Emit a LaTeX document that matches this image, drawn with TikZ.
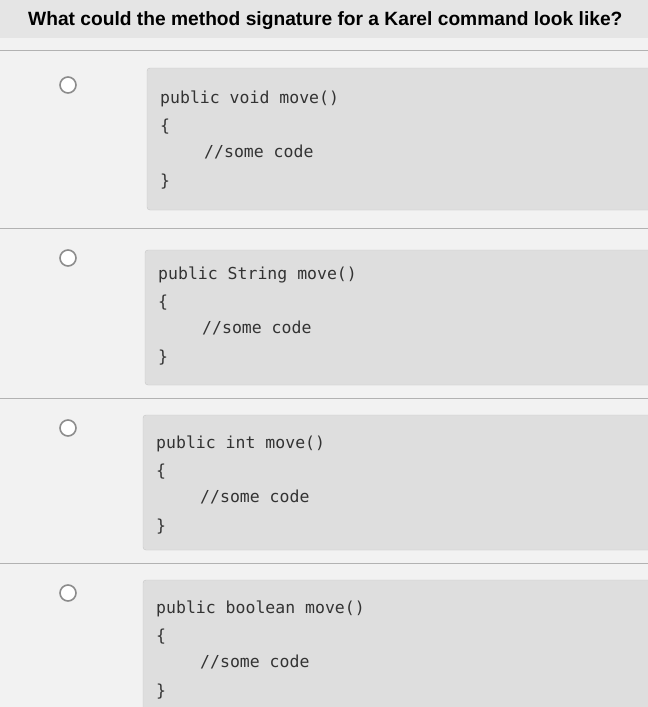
\documentclass[tikz,border=0pt]{standalone}
\usepackage{fontspec}
\setmainfont{Liberation Sans}
\newfontfamily\codefont{DejaVu Sans Mono}
\begin{document}
\begin{tikzpicture}[x=1pt,y=-1pt,
  codebox/.style={fill=black!13,draw=black!22,rounded corners=3pt},
  radio/.style={circle,draw=black!45,line width=1.6pt,fill=white,minimum size=16pt,inner sep=0pt},
  code/.style={font=\codefont\fontsize{16.5}{18}\selectfont,text=black!80,anchor=base west,inner sep=0pt},
  sep/.style={draw=black!30,line width=1pt}]
\useasboundingbox (0,0) rectangle (648,707);
\fill[black!5] (0,0) rectangle (648,707);
\fill[black!10] (0,0) rectangle (648,38);
\node[font=\bfseries\fontsize{19.2}{22}\selectfont,anchor=base west,inner sep=0pt] (title) at (28,25) {What could the method signature for a Karel command look like?};
\draw[sep] (0,50) -- (648,50);
\draw[sep] (0,228) -- (648,228);
\draw[sep] (0,398) -- (648,398);
\draw[sep] (0,563) -- (648,563);
% options
\foreach \i/\cy/\bx/\by/\bh/\ty/\kw in {1/85/147/68/142/103/void, 2/258/145/250/135/279/String, 3/428/143/415/135/448/int, 4/593/143/580/140/613/boolean}{
  \node[radio] (r\i) at (68,\cy) {};
  \draw[codebox] (\bx,\by) rectangle (660,\by+\bh);
  \node[code] (a\i) at (\bx+13,\ty) {public \kw\ move()};
  \node[code] (b\i) at (\bx+13,\ty+28) {\{};
  \node[code] (c\i) at (\bx+57,\ty+54) {//some code};
  \node[code] (d\i) at (\bx+13,\ty+83) {\}};
}
\end{tikzpicture}
\end{document}
